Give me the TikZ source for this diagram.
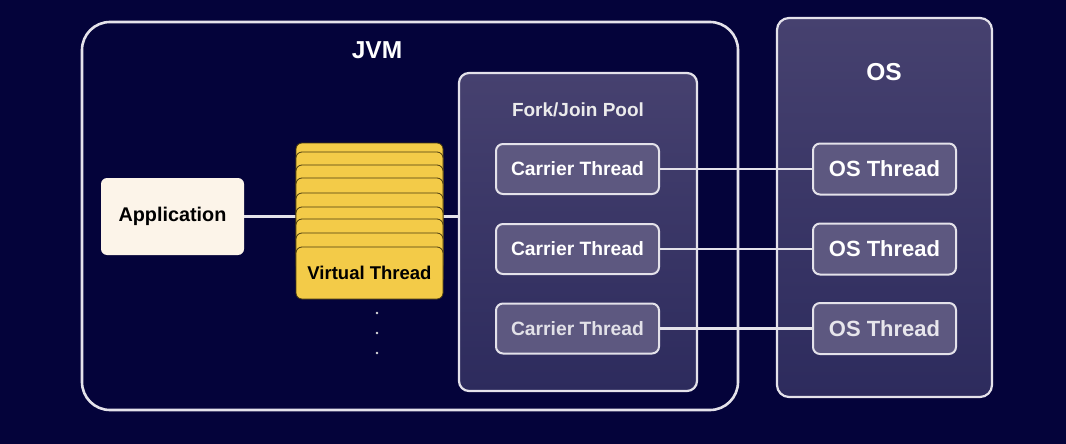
\documentclass[tikz,border=0pt]{standalone}
\usepackage{fontspec}
\setmainfont{Liberation Sans}
\definecolor{bgc}{HTML}{04033A}
\definecolor{linec}{HTML}{E4E2EA}
\definecolor{poolt}{HTML}{46416F}
\definecolor{poolb}{HTML}{2D2B5D}
\definecolor{carrf}{HTML}{5D5880}
\definecolor{appf}{HTML}{FCF4E9}
\definecolor{vtf}{HTML}{F3CB48}
\definecolor{vtd}{HTML}{4A3B0E}
\tikzset{
  panel/.style={draw=linec, line width=2.2pt, top color=poolt, bottom color=poolb},
  thr/.style={draw=linec, line width=2pt, fill=carrf, rounded corners=7pt, text=white, font=\bfseries},
  wire/.style={draw=linec, line width=2.2pt},
  card/.style={draw=vtd, line width=0.8pt, fill=vtf, rounded corners=6pt, minimum width=147pt, minimum height=52pt, inner sep=0pt},
  ttl/.style={text=white, font=\bfseries}
}
\begin{document}
\begin{tikzpicture}[x=1pt,y=-1pt]
\fill[bgc] (0,0) rectangle (1066,444);
\useasboundingbox (0,0) rectangle (1066,444);
% JVM
\node[draw=linec, line width=2.6pt, fill=bgc, rounded corners=28pt, minimum width=656pt, minimum height=388pt, inner sep=0pt] (jvm) at (410,216) {};
\node[ttl, font=\fontsize{24.5}{28}\selectfont\bfseries] (jvml) at (377,50) {JVM};
% Fork/Join pool
\node[panel, rounded corners=10pt, minimum width=238pt, minimum height=318pt, inner sep=0pt] (pool) at (578,232) {};
\node[ttl, text=white!92!black, font=\fontsize{19}{22}\selectfont\bfseries] (pooll) at (578,110) {Fork/Join Pool};
% OS
\node[panel, rounded corners=12pt, minimum width=215pt, minimum height=379pt, inner sep=0pt] (os) at (884.5,207.5) {};
\node[ttl, font=\fontsize{24.5}{28}\selectfont\bfseries] (osl) at (884,72) {OS};
% Application
\node[fill=appf, rounded corners=6pt, minimum width=143pt, minimum height=77pt, inner sep=0pt, font=\fontsize{19.8}{22}\selectfont\bfseries, text=black] (app) at (172.5,216.5) {Application};
\draw[wire] (app.east) -- (app.east -| pool.west);
% Virtual thread cards
\foreach \t in {143,152,165,178,193,207,219,233}{
  \node[card] at (369.5,\t+26) {};
}
\node[card, font=\fontsize{18.5}{22}\selectfont\bfseries, text=black] (vt) at (369.5,273) {Virtual Thread};
% dots
\foreach \y/\n in {313/d1,333/d2,353/d3}{
  \fill[white!85!black] (377,\y) circle (1.3pt);
}
% Carrier threads
\node[thr, minimum width=163pt, minimum height=50pt, inner sep=0pt, font=\fontsize{19.3}{22}\selectfont\bfseries] (c1) at (577.5,169) {Carrier Thread};
\node[thr, minimum width=163pt, minimum height=50pt, inner sep=0pt, font=\fontsize{19.3}{22}\selectfont\bfseries] (c2) at (577.5,249) {Carrier Thread};
\node[thr, minimum width=163pt, minimum height=50pt, inner sep=0pt, font=\fontsize{19.3}{22}\selectfont\bfseries, text=white!82!carrf] (c3) at (577.5,328.5) {Carrier Thread};
% OS threads
\node[thr, minimum width=143pt, minimum height=51pt, inner sep=0pt, font=\fontsize{22}{24}\selectfont\bfseries] (o1) at (884.5,169) {OS Thread};
\node[thr, minimum width=143pt, minimum height=51pt, inner sep=0pt, font=\fontsize{22}{24}\selectfont\bfseries] (o2) at (884.5,249) {OS Thread};
\node[thr, minimum width=143pt, minimum height=51pt, inner sep=0pt, font=\fontsize{22}{24}\selectfont\bfseries, text=white!85!carrf] (o3) at (884.5,328.5) {OS Thread};
% wires
\draw[wire] (c1) -- (o1);
\draw[wire] (c2) -- (o2);
\draw[wire] (c3) -- (o3);
\end{tikzpicture}
\end{document}
